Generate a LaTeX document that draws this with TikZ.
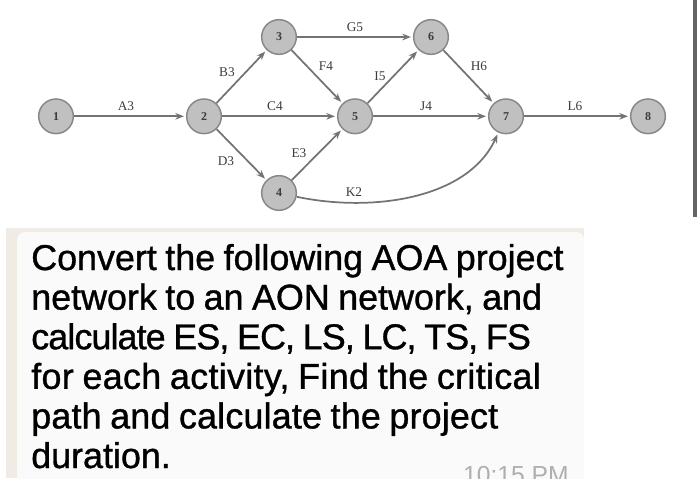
\documentclass[tikz,border=0pt]{standalone}
\usepackage{fontspec}
\setmainfont{Liberation Serif}
\newfontfamily\msgfont[FakeBold=1,WordSpace=0.85]{Liberation Sans}
\newfontfamily\stampfont{Liberation Sans}
\newcommand{\msgtrack}[2]{{\addfontfeature{LetterSpace=#1}#2}}
\usetikzlibrary{arrows.meta}
\definecolor{evfill}{RGB}{192,192,192}
\definecolor{evline}{RGB}{135,135,135}
\definecolor{arcline}{RGB}{115,115,115}
\definecolor{labelgray}{RGB}{60,60,60}
\definecolor{chatbg}{RGB}{240,235,228}
\definecolor{bubble}{RGB}{251,250,250}
\definecolor{stamp}{RGB}{175,175,175}
\definecolor{sidebar}{RGB}{100,100,100}
\tikzset{
  event/.style={circle,draw=evline,fill=evfill,line width=1.1pt,minimum size=26pt,inner sep=0pt,text=labelgray,font=\fontsize{9}{10}\selectfont\bfseries},
  activity/.style={draw=arcline,line width=1.3pt,-{Stealth[length=6.5pt,width=5pt]},shorten >=1.5pt},
  actlabel/.style={text=labelgray,inner sep=0pt,font=\fontsize{10}{12}\selectfont}
}
\begin{document}
\begin{tikzpicture}[x=0.75pt,y=-0.75pt]
\useasboundingbox (0,0) rectangle (700,489);
% Chat message
\fill[chatbg] (6,228) rectangle (584,478);
\begin{scope}
\clip (6,228) rectangle (584,478);
\fill[bubble,rounded corners=6pt] (17,232) rectangle (584,500);
\node[anchor=north east,inner sep=0pt,text=stamp,font=\stampfont\fontsize{18.5}{22}\selectfont] (stamp) at (569,466) {10:15 PM};
\end{scope}
\node[anchor=base west,inner sep=0pt,align=left,font=\msgfont\fontsize{26.9}{29.7}\selectfont] (msg) at (31,468) {Convert the following AOA project\\network to an AON network, and\\\msgtrack{-2.5}{calculate ES, EC, LS, LC, TS, FS}\\\msgtrack{0.9}{for each activity, Find the critical}\\\msgtrack{0.5}{path and calculate the project}\\duration.};
\fill[sidebar] (693,0) rectangle (697,217);

% Events
\node[event] (n1) at (56,116.3) {1};
\node[event] (n2) at (204,116.3) {2};
\node[event] (n3) at (279,37) {3};
\node[event] (n4) at (279,193) {4};
\node[event] (n5) at (355,116.3) {5};
\node[event] (n6) at (431,37) {6};
\node[event] (n7) at (506,116.3) {7};
\node[event] (n8) at (648,116.3) {8};

% Activities
\draw[activity] (n1) -- (n2);
\draw[activity] (n2) -- (n3);
\draw[activity] (n2) -- (n5);
\draw[activity] (n2) -- (n4);
\draw[activity] (n3) -- (n6);
\draw[activity] (n3) -- (n5);
\draw[activity] (n4) -- (n5);
\draw[activity] (n5) -- (n6);
\draw[activity] (n5) -- (n7);
\draw[activity] (n6) -- (n7);
\draw[activity] (n7) -- (n8);
\draw[activity] (n4) to[out=-12,in=-115,looseness=0.9] (n7);

% Labels
\node[actlabel] (lA) at (126,106) {A3};
\node[actlabel] (lB) at (227,72) {B3};
\node[actlabel] (lC) at (275,106) {C4};
\node[actlabel] (lD) at (226,161) {D3};
\node[actlabel] (lE) at (299,153) {E3};
\node[actlabel] (lF) at (326,66.5) {F4};
\node[actlabel] (lG) at (355,27) {G5};
\node[actlabel] (lH) at (479,66) {H6};
\node[actlabel] (lI) at (380,76) {I5};
\node[actlabel] (lJ) at (426,106) {J4};
\node[actlabel] (lK) at (354,192) {K2};
\node[actlabel] (lL) at (575,106) {L6};
\end{tikzpicture}
\end{document}
